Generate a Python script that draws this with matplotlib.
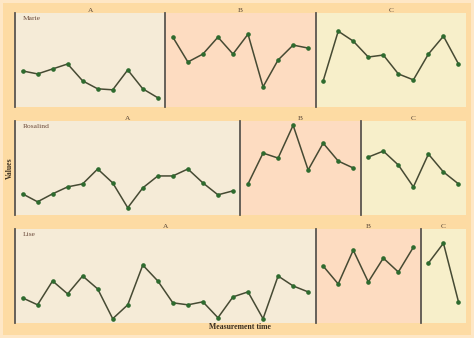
#
# Imports
#
import matplotlib
matplotlib.use('Agg')
import matplotlib.pyplot as plt

#
# Data: one short series per person and measurement phase (A, B, C)
#
names = ['Marie', 'Rosalind', 'Lise']
phases = ['A', 'B', 'C']

marie_a = [36, 33, 38, 43, 26, 18, 17, 37, 18, 9]
marie_b = [70, 45, 53, 70, 53, 73, 20, 47, 62, 59]
marie_c = [26, 76, 66, 50, 52, 33, 27, 53, 71, 43]

rosalind_a = [21, 13, 21, 28, 31, 46, 32, 7, 27, 39, 39, 46, 32, 20, 24]
rosalind_b = [31, 62, 57, 90, 45, 72, 54, 47]
rosalind_c = [58, 64, 50, 28, 61, 43, 31]

lise_a = [25, 18, 42, 29, 47, 34, 4, 18, 58, 42, 20, 18, 21, 5, 26, 31, 4, 47, 37, 31]
lise_b = [57, 39, 73, 41, 65, 51, 76]
lise_c = [60, 80, 21]

rows = [[marie_a, marie_b, marie_c],
        [rosalind_a, rosalind_b, rosalind_c],
        [lise_a, lise_b, lise_c]]

#
# Styling
#
W, H = 474, 338          # figure size in pixels
fig_bg = '#FDDBA3'
panel_bg = ['#F5EBD7', '#FDDCC1', '#F7EFCA']
line_col = '#464A33'
point_col = '#2E6B2E'
text_col = '#5A4838'
sep_col = '#5B5650'
font = ['Liberation Serif', 'DejaVu Serif']

left_px, right_px = 15, 466     # horizontal extent of each row
row_tops = [13, 121, 229]       # top of each row of panels (px)
panel_h = 94                    # height of the panels (px)

# shared y scale for all panels, with a 5% margin
all_vals = [v for row in rows for series in row for v in series]
lo, hi = min(all_vals), max(all_vals)
pad = 0.05*(hi-lo)
y_lim = (lo-pad, hi+pad)

fig = plt.figure(figsize=(W/100, H/100), dpi=100)
fig.patch.set_facecolor(fig_bg)
fig.patch.set_edgecolor('#FEE7C6')
fig.patch.set_linewidth(3)

#
# Panels: widths follow the number of measurements in each phase
#
for r, row in enumerate(rows):
    n_total = sum(len(s) for s in row)
    unit = (right_px-left_px)/n_total
    start = 0
    for p, series in enumerate(row):
        n = len(series)
        x0 = left_px + unit*start
        w = unit*n
        top = row_tops[r]
        ax = fig.add_axes([x0/W, 1-(top+panel_h)/H, w/W, panel_h/H])
        ax.set_facecolor(panel_bg[p])
        for side in ['top', 'right', 'bottom']:
            ax.spines[side].set_visible(False)
        ax.spines['left'].set_color(sep_col)
        ax.spines['left'].set_linewidth(1.3)
        ax.set_xticks([])
        ax.set_yticks([])
        ax.set_xlim(-0.5, n-0.5)
        ax.set_ylim(*y_lim)

        ax.plot(range(n), series, color=line_col, lw=1.1, marker='o', ms=2.3,
                mfc=point_col, mec=point_col, zorder=3)

        # phase label above the panel
        ax.text(0.5, 1.005, phases[p], transform=ax.transAxes, ha='center',
                va='bottom', fontsize=5.3, color=text_col, family=font)
        # person name in the first panel of the row
        if p == 0:
            ax.text(0, 0.965, names[r], transform=ax.get_xaxis_transform(),
                    ha='left', va='top', fontsize=5.4, color='#6B4A3A', family=font)
        start += n

#
# Axis titles
#
fig.text(10/W, 1-168/H, 'Values', rotation=90, ha='center', va='center',
         fontsize=5.6, color='#3B2F20', family=font, weight='bold')
fig.text(240/W, 1-327/H, 'Measurement time', ha='center', va='center',
         fontsize=5.6, color='#3B2F20', family=font, weight='bold')

fig.savefig('out.png', dpi=100, facecolor=fig.get_facecolor(), edgecolor=fig.patch.get_edgecolor())
